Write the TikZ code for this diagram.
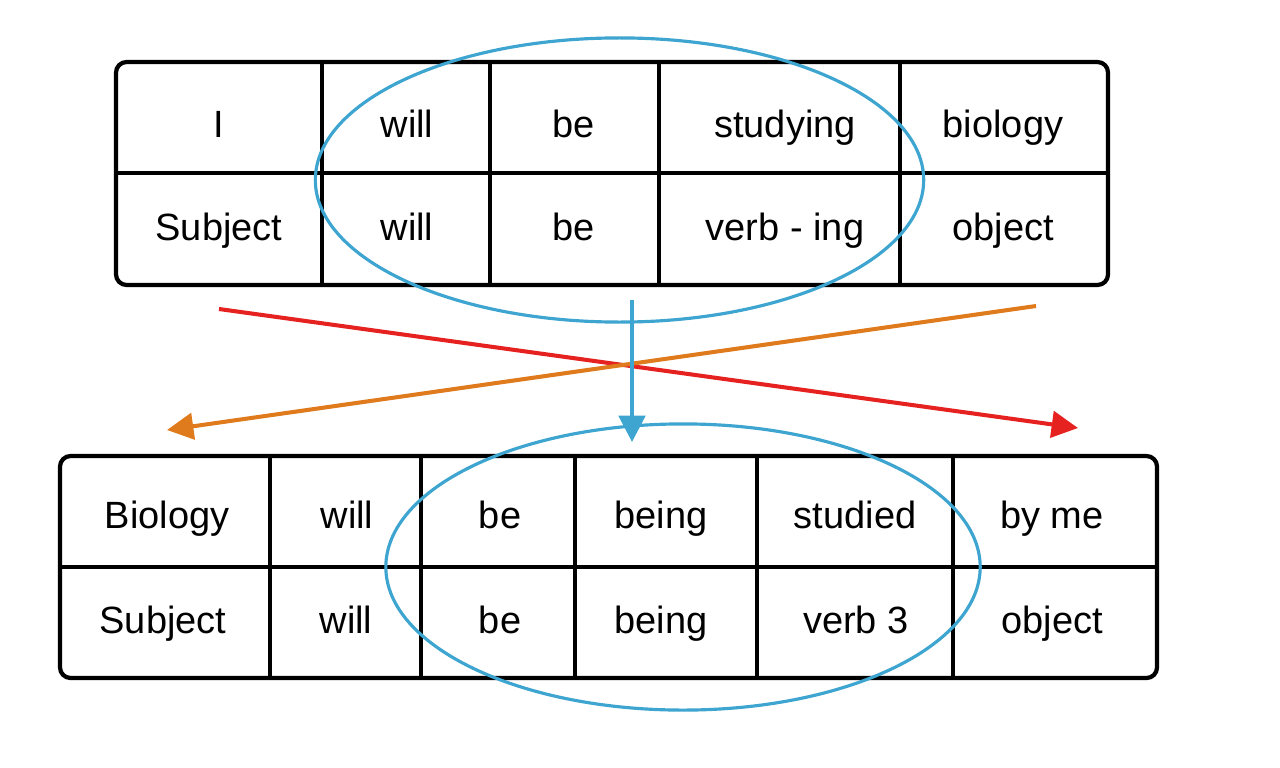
\documentclass[tikz,border=0pt]{standalone}
\usepackage{fontspec}
\setmainfont{Liberation Sans}
\usepackage{xcolor}
\usetikzlibrary{arrows.meta, shapes.geometric}
\definecolor{ringblue}{HTML}{3DA5CF}
\definecolor{crossred}{HTML}{E5221F}
\definecolor{crossorange}{HTML}{DF7B1C}

\begin{document}
\begin{tikzpicture}[
    x=0.01cm, y=-0.01cm,
    grid/.style={draw=black, line width=1.2pt},
    cell/.style={font=\fontsize{10.8}{13}\selectfont, inner sep=0pt, anchor=base},
    ring/.style={ellipse, draw=ringblue, line width=0.9pt, inner sep=0pt},
    swap/.style={-{Triangle[length=7.5pt, width=7.5pt]}, line width=1.15pt}
]
\useasboundingbox (0,0) rectangle (1280,767);

% active table
\draw[grid, rounded corners=3pt] (116,62) rectangle (1108,285);
\draw[grid] (116,173) -- (1108,173);
\foreach \xs in {322,490,659,900}
    \draw[grid] (\xs,62) -- (\xs,285);

\node[cell] (a1) at (219,137) {I};
\node[cell] (a2) at (407,137) {will};
\node[cell] (a3) at (573.5,137) {be};
\node[cell] (a4) at (785,137) {studying};
\node[cell] (a5) at (1003,137) {biology};
\node[cell] (af1) at (219,240) {Subject};
\node[cell] (af2) at (407,240) {will};
\node[cell] (af3) at (573.5,240) {be};
\node[cell] (af4) at (785,240) {verb - ing};
\node[cell] (af5) at (1003,240) {object};

% passive table
\draw[grid, rounded corners=3pt] (60,456) rectangle (1157,678);
\draw[grid] (60,567) -- (1157,567);
\foreach \xs in {270,421,575,757,953}
    \draw[grid] (\xs,456) -- (\xs,678);

\node[cell] (p1) at (167,528) {Biology};
\node[cell] (p2) at (347,528) {will};
\node[cell] (p3) at (500,528) {be};
\node[cell] (p4) at (661,528) {being};
\node[cell] (p5) at (855,528) {studied};
\node[cell] (p6) at (1052,528) {by me};
\node[cell] (pf1) at (163,633) {Subject};
\node[cell] (pf2) at (346,633) {will};
\node[cell] (pf3) at (500,633) {be};
\node[cell] (pf4) at (661,633) {being};
\node[cell] (pf5) at (856,633) {verb 3};
\node[cell] (pf6) at (1052,633) {object};

% verb groups
\node[ring, minimum width=6.08cm, minimum height=2.84cm] (activeverb) at (619.5,180) {};
\node[ring, minimum width=5.94cm, minimum height=2.86cm] (passiveverb) at (683,567) {};

% arrows
\coordinate (subjfrom) at (219,309);
\coordinate (subjto) at (1078,428);
\coordinate (objfrom) at (1036,306);
\coordinate (objto) at (167,430);
\coordinate (verbfrom) at (632,300);
\coordinate (verbto) at (632,442);

\draw[swap, crossred] (subjfrom) -- (subjto);
\draw[swap, crossorange] (objfrom) -- (objto);
\draw[swap, ringblue] (verbfrom) -- (verbto);
\end{tikzpicture}
\end{document}
